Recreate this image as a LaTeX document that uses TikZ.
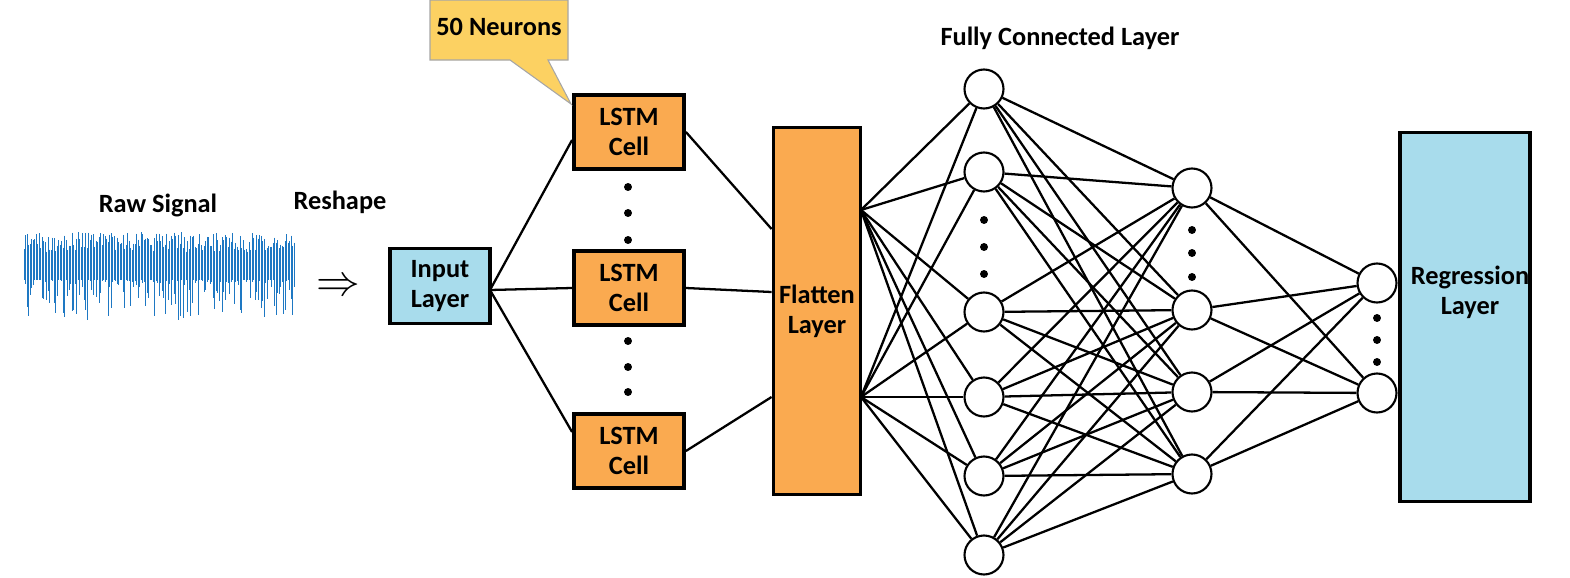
\documentclass[tikz,border=0pt]{standalone}
\usepackage{fontspec}
\setmainfont{Carlito}
\definecolor{lstmorange}{RGB}{250,170,80}
\definecolor{boxblue}{RGB}{168,220,236}
\definecolor{sigblue}{RGB}{30,120,195}
\begin{document}
\begin{tikzpicture}[x=0.02cm,y=-0.02cm,
  lbl/.style={font=\bfseries\fontsize{15}{17}\selectfont,align=center,inner sep=0pt},
  blk/.style={draw,line width=2.2pt,fill=lstmorange,lbl},
  lstm/.style={blk,minimum width=2.2cm,minimum height=1.48cm},
  neu/.style={circle,draw,line width=1.2pt,fill=white,minimum size=0.78cm,inner sep=0pt},
  wire/.style={line width=1.3pt},
  dot/.style={circle,fill,inner sep=1.6pt}]
\useasboundingbox (0,0) rectangle (1570,578);
% raw signal
\pgfmathsetseed{7}
\foreach \i in {0,...,180}{
  \pgfmathsetmacro{\xx}{24+1.5*\i}
  \pgfmathsetmacro{\up}{232+20*rnd}
  \pgfmathsetmacro{\dn}{280+40*rnd^3}
  \draw[line width=0.5pt,sigblue] (\xx,\up) -- (\xx,\dn);
}
\node[lbl] (raw) at (158,205) {Raw Signal};
\node[lbl] (resh) at (340,202) {Reshape};
\node[font=\fontsize{36}{36}\selectfont,inner sep=0pt] (arr) at (338,287) {$\Rightarrow$};
% input
\node[draw,line width=2.2pt,fill=boxblue,lbl,minimum width=2.0cm,minimum height=1.5cm] (in) at (440,286) {Input\\Layer};
% LSTM cells
\node[lstm] (l1) at (629,132) {LSTM\\Cell};
\node[lstm] (l2) at (629,288) {LSTM\\Cell};
\node[lstm] (l3) at (629,451) {LSTM\\Cell};
\foreach \y in {187,213,240,341,367,392} \node[dot] at (628,\y) {};
% callout
\fill[yellow!45!orange!60!white,draw=gray!70,line width=0.6pt]
  (430,0) -- (568,0) -- (568,60) -- (548,60) -- (571,104) -- (510,60) -- (430,60) -- cycle;
\node[lbl] (cal) at (499,27) {50 Neurons};
% flatten
\node[blk,minimum width=1.74cm,minimum height=7.34cm] (fl) at (817,311) {Flatten\\Layer};
\node[lbl] (fcl) at (1060,38) {Fully Connected Layer};
\coordinate (inr) at (490,290);
\draw[wire] (inr) -- (l1.west|-0,140);
\draw[wire] (inr) -- (l2.west);
\draw[wire] (inr) -- (l3.west|-0,432);
\draw[wire] (l1.east) -- (fl.west|-0,229);
\draw[wire] (l2.east) -- (fl.west|-0,292);
\draw[wire] (l3.east) -- (fl.west|-0,397);
\coordinate (fa) at (861,210);
\coordinate (fb) at (861,397);
% neurons
\foreach \n/\y in {1/89,2/172,3/312,4/397,5/476,6/555} \node[neu] (a\n) at (984,\y) {};
\foreach \n/\y in {1/188,2/310,3/392,4/474} \node[neu] (b\n) at (1192,\y) {};
\foreach \n/\y in {1/283,2/393} \node[neu] (c\n) at (1377,\y) {};
\foreach \y in {220,247,274} \node[dot] at (984,\y) {};
\foreach \y in {230,253,277} \node[dot] at (1192,\y) {};
\foreach \y in {318,340,362} \node[dot] at (1377,\y) {};
\foreach \n in {1,...,6}{
  \draw[wire] (fa) -- (a\n);
  \draw[wire] (fb) -- (a\n);
  \foreach \m in {1,...,4} \draw[wire] (a\n) -- (b\m);
}
\foreach \m in {1,...,4} \foreach \k in {1,2} \draw[wire] (b\m) -- (c\k);
% regression
\node[draw,line width=2.2pt,fill=boxblue,minimum width=2.6cm,minimum height=7.38cm] (reg) at (1465,317) {};
\node[lbl] (regt) at (1470,292) {Regression\\Layer};
\end{tikzpicture}
\end{document}
